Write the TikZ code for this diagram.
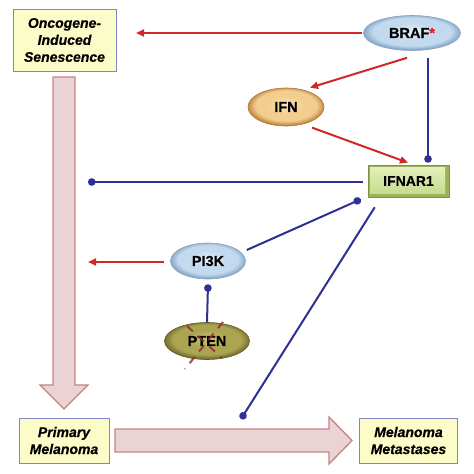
\documentclass[tikz,border=0pt]{standalone}
\usepackage{fontspec}
\setmainfont{Liberation Sans}[BoldFeatures={FakeBold=0.6}, BoldItalicFeatures={FakeBold=0.5}]
\usetikzlibrary{shapes.geometric,arrows.meta,calc}
\definecolor{boxfill}{HTML}{FCFCC8}
\definecolor{boxline}{HTML}{8585C2}
\definecolor{bigfill}{HTML}{EBD2D5}
\definecolor{bigline}{HTML}{C48484}
\definecolor{actred}{HTML}{D02828}
\definecolor{inhblue}{HTML}{2E3192}
\definecolor{blueA}{HTML}{E6F1FA}
\definecolor{blueM}{HTML}{C3DAEE}
\definecolor{blueB}{HTML}{86A9CC}
\definecolor{blueL}{HTML}{8FA3BC}
\definecolor{orA}{HTML}{FCE6BE}
\definecolor{orM}{HTML}{F2CD8E}
\definecolor{orB}{HTML}{C38A45}
\definecolor{orL}{HTML}{A9793A}
\definecolor{olA}{HTML}{C9C57A}
\definecolor{olM}{HTML}{ABA552}
\definecolor{olB}{HTML}{767030}
\definecolor{olL}{HTML}{625E22}
\definecolor{grA}{HTML}{E6F0BE}
\definecolor{grB}{HTML}{C4D98A}
\definecolor{grD}{HTML}{9CB257}
\definecolor{grL}{HTML}{7E9340}
\definecolor{xred}{HTML}{8E3030}
\pgfdeclareradialshading{blueball}{\pgfpoint{0bp}{3bp}}{color(0bp)=(blueA); color(12bp)=(blueM); color(20bp)=(blueM); color(25bp)=(blueB); color(50bp)=(blueB)}
\pgfdeclareradialshading{orball}{\pgfpoint{0bp}{3bp}}{color(0bp)=(orA); color(12bp)=(orM); color(20bp)=(orM); color(25bp)=(orB); color(50bp)=(orB)}
\pgfdeclareradialshading{olball}{\pgfpoint{0bp}{3bp}}{color(0bp)=(olA); color(12bp)=(olM); color(20bp)=(olM); color(25bp)=(olB); color(50bp)=(olB)}
\tikzset{
  x=1pt, y=-1pt,
  statebox/.style={draw=boxline, line width=1pt, fill=boxfill, inner sep=0pt,
    align=center, font=\fontsize{14}{17}\selectfont\bfseries\itshape},
  protein/.style={ellipse, inner sep=0pt, line width=0.6pt,
    font=\fontsize{14.5}{17}\selectfont\bfseries},
  blueprot/.style={protein, draw=blueL, shading=blueball},
  actarrow/.style={draw=actred, line width=2pt, -{Triangle[length=8pt,width=7pt]}},
  inhline/.style={draw=inhblue, line width=2pt, -{Circle[length=7.5pt,width=7.5pt]}},
  bigarrow/.style={draw=bigline, line width=1.3pt, fill=bigfill},
  xmark/.style={draw=xred, opacity=0.85, line width=2pt, dash pattern=on 8pt off 7pt},
}
\begin{document}
\begin{tikzpicture}
\path[use as bounding box, fill=white] (0,0) rectangle (474,474);

% big arrows
\draw[bigarrow] (53,77) -- (75,77) -- (75,385) -- (88,385) -- (64,409) -- (40,385) -- (53,385) -- cycle;
\draw[bigarrow] (115,429) -- (329,429) -- (329,417) -- (352,440.5) -- (329,464) -- (329,452) -- (115,452) -- cycle;

% state boxes
\node[statebox, minimum width=103pt, minimum height=62pt] (ois) at (64.5,40) {Oncogene-\\Induced\\Senescence};
\node[statebox, minimum width=90pt, minimum height=45pt] (prim) at (64,440.5) {Primary\\Melanoma};
\node[statebox, minimum width=98pt, minimum height=45pt] (meta) at (408.5,440.5) {Melanoma\\Metastases};

% proteins
\node[blueprot, minimum width=97pt, minimum height=35pt] (braf) at (412,33) {BRAF\textcolor{actred}{*}};
\node[protein, draw=orL, shading=orball,
  minimum width=76pt, minimum height=38pt] (ifn) at (286,107) {IFN};
\node[blueprot, minimum width=75pt, minimum height=36pt] (pi3k) at (208,261) {PI3K};
\node[protein, draw=olL, shading=olball,
  minimum width=85pt, minimum height=37pt] (pten) at (207,341) {PTEN};
\node[draw=grL, line width=0.6pt, fill=grD, minimum width=81pt, minimum height=32pt, inner sep=0pt,
  font=\fontsize{14}{17}\selectfont\bfseries,
  path picture={\shade[top color=grA, bottom color=grB]
    ([shift={(2pt,-2pt)}]path picture bounding box.north west) rectangle
    ([shift={(-4pt,4pt)}]path picture bounding box.south east);}] (ifnar) at (408.5,181) {IFNAR1};

% PTEN crossed out
\draw[xmark] ($(pten.center)+(-20,-15)$) -- ($(pten.center)+(15,17)$);
\draw[xmark] ($(pten.center)+(16,-19)$) -- ($(pten.center)+(-22,28)$);

% free ends
\coordinate (oisend) at (136,33);
\coordinate (ifnarinh) at (88,182);
\coordinate (pi3kact) at (88,262);
\coordinate (metinh) at (241,419);

% activation arrows
\draw[actarrow] ($(braf.west)+(-1,0)$) -- (oisend);
\draw[actarrow] ($(braf.south)+(-5,7)$) -- ($(ifn.north)+(24,0)$);
\draw[actarrow] ($(ifn.south east)+(-1,7)$) -- ($(ifnar.north)+(-0.5,-2)$);
\draw[actarrow] ($(pi3k.west)+(-6,1)$) -- (pi3kact);

% inhibition lines
\draw[inhline] ($(braf.south)+(16,7)$) -- ($(ifnar.north)+(19.5,-2)$);
\draw[inhline] ($(ifnar.west)+(-5,1)$) -- (ifnarinh);
\draw[inhline] ($(pi3k.east)+(1,-11)$) -- ($(ifnar.south west)+(-7,2)$);
\draw[inhline] (pten.north) -- ($(pi3k.south)+(0,5)$);
\draw[inhline] ($(ifnar.south west)+(7,10)$) -- (metinh);
\end{tikzpicture}
\end{document}
